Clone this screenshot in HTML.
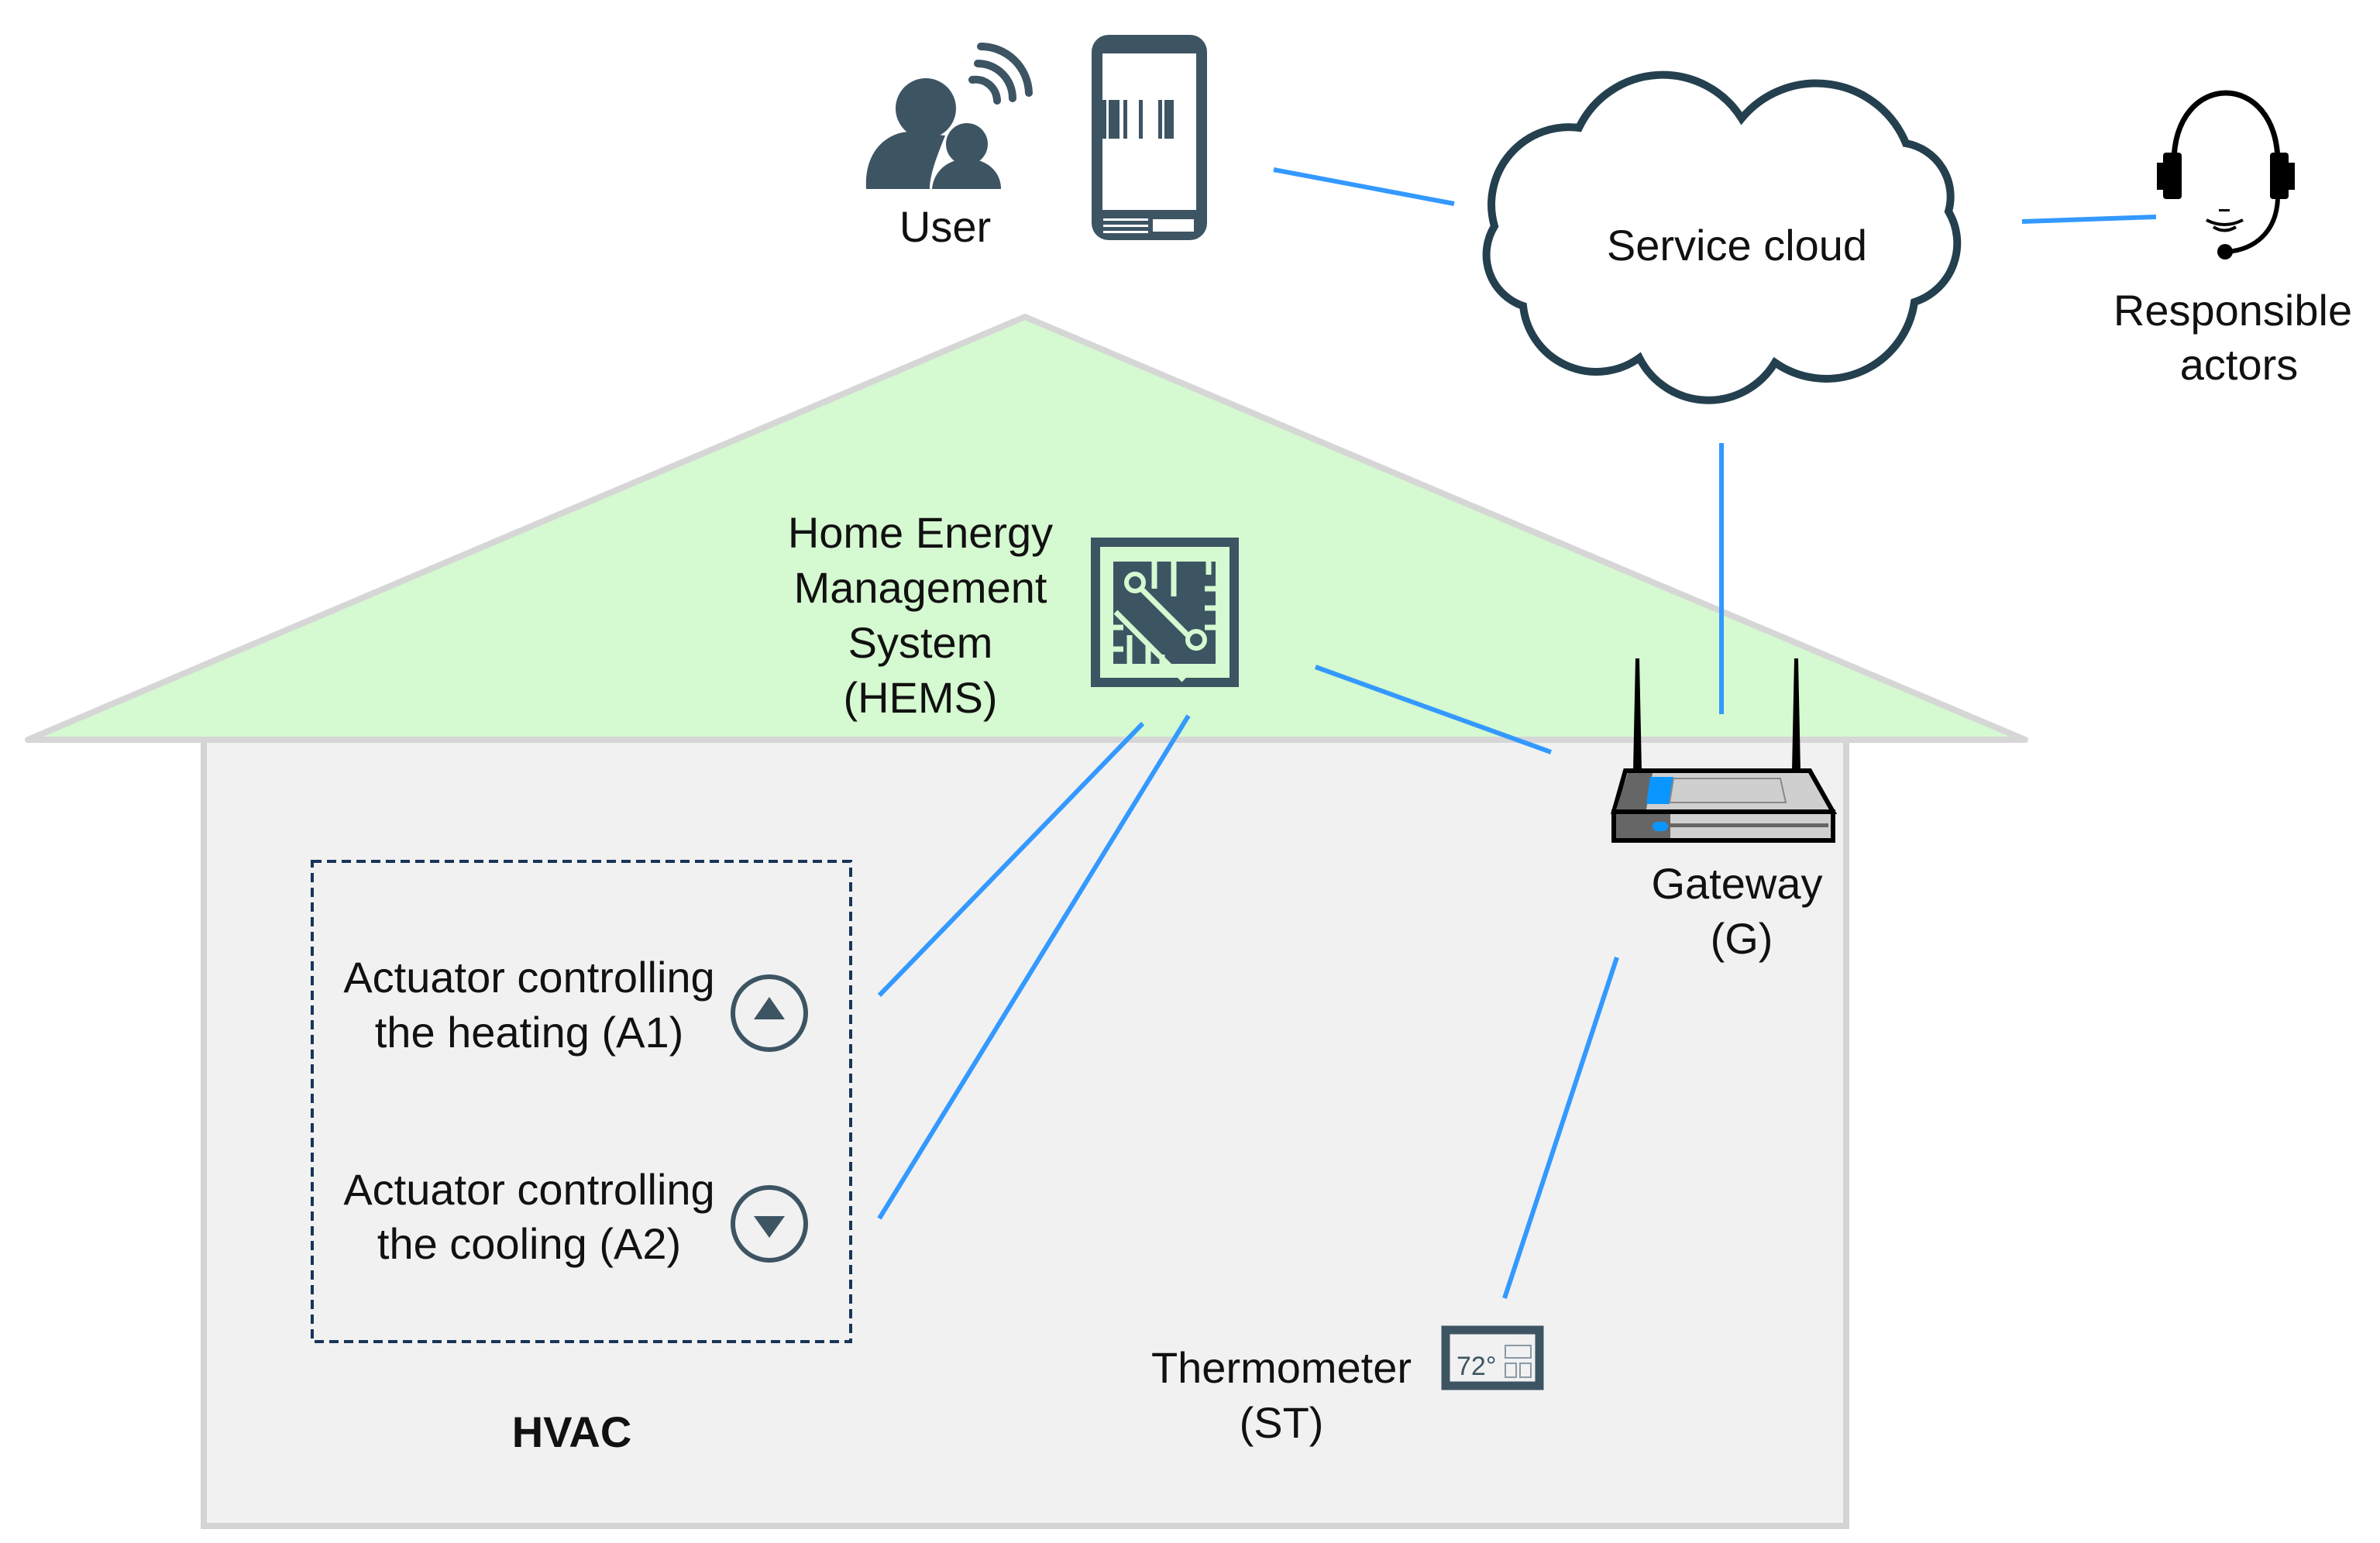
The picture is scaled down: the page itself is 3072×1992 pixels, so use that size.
<!DOCTYPE html>
<html><head><meta charset="utf-8"><style>
html,body{margin:0;padding:0;background:#fff;}
svg{display:block;}
text{font-family:"Liberation Sans",Arial,sans-serif;font-size:56px;fill:#111;}
</style></head><body>
<svg width="3072" height="1992" viewBox="0 0 3072 1992" xmlns="http://www.w3.org/2000/svg">
<!-- house body -->
<rect x="263" y="955" width="2120" height="1015" fill="#f1f1f1" stroke="#d4d4d4" stroke-width="8"/>
<!-- roof -->
<polygon points="1323,409 36,955 2614,955" fill="#d5f9d0" stroke="#d6d6d6" stroke-width="8" stroke-linejoin="round"/>

<!-- connectors -->
<g stroke="#3399ff" stroke-width="6" stroke-linecap="butt">
<line x1="1644" y1="219" x2="1877" y2="263"/>
<line x1="2610" y1="286" x2="2783" y2="280"/>
<line x1="2222" y1="572" x2="2222" y2="922"/>
<line x1="1698" y1="861" x2="2002" y2="971"/>
<line x1="1475" y1="934" x2="1135" y2="1285"/>
<line x1="1534" y1="924" x2="1135" y2="1573"/>
<line x1="2087" y1="1236" x2="1942" y2="1676"/>
</g>

<!-- cloud -->
<path d="M2038,165 A120,120 0 0 1 2248,153 A125,125 0 0 1 2460,185 A70,70 0 0 1 2515,273 A80,80 0 0 1 2471,390 A115,115 0 0 1 2291,468 A100,100 0 0 1 2116,462 A95,95 0 0 1 1966,395 A70,70 0 0 1 1929,292 A100,100 0 0 1 2038,165 Z" fill="#fff" stroke="#24404f" stroke-width="10"/>
<text x="2242" y="336" text-anchor="middle">Service cloud</text>

<!-- user icon -->
<g fill="#3d5463">
<circle cx="1195" cy="140" r="39"/>
<path d="M1118,244 C1115,190 1150,170 1175,170 L1220,175 C1210,200 1200,225 1200,244 Z"/>
<circle cx="1248" cy="186" r="27"/>
<path d="M1203,244 C1205,220 1225,205 1248,205 C1272,205 1292,220 1292,244 Z"/>
</g>
<g fill="none" stroke="#3d5463" stroke-width="10" stroke-linecap="round">
<path d="M1255,103 A28,28 0 0 1 1287,130"/>
<path d="M1262,82 A45,45 0 0 1 1307,127"/>
<path d="M1266,60 A62,62 0 0 1 1328,120"/>
</g>
<text x="1220" y="312" text-anchor="middle">User</text>

<!-- phone -->
<rect x="1409" y="45" width="149" height="265" rx="22" fill="#3d5463"/>
<rect x="1423" y="69" width="121" height="202" fill="#fff"/>
<rect x="1424" y="282" width="58" height="3" fill="#fff"/><rect x="1424" y="290" width="58" height="3" fill="#fff"/><rect x="1424" y="298" width="58" height="3" fill="#fff"/>
<rect x="1488" y="283" width="53" height="16" fill="#fff"/>
<g fill="#3d5463"><rect x="1423" y="129" width="5" height="50"/><rect x="1431" y="129" width="14" height="50"/><rect x="1450" y="129" width="5" height="50"/><rect x="1470" y="129" width="5" height="50"/><rect x="1495" y="129" width="5" height="50"/><rect x="1503" y="129" width="12" height="50"/></g>

<!-- headset -->
<g>
<path d="M2806,210 C2806,90 2940,90 2940,210" fill="none" stroke="#000" stroke-width="7"/>
<rect x="2792" y="197" width="24" height="60" rx="4" fill="#000"/>
<rect x="2784" y="210" width="12" height="35" fill="#000"/>
<rect x="2930" y="197" width="24" height="60" rx="4" fill="#000"/>
<rect x="2950" y="210" width="12" height="35" fill="#000"/>
<path d="M2940,257 C2938,300 2910,322 2875,325" fill="none" stroke="#000" stroke-width="6"/>
<circle cx="2872" cy="325" r="10" fill="#000"/>
<rect x="2864" y="270" width="14" height="3" fill="#000"/>
<path d="M2848,284 Q2871,296 2895,284" fill="none" stroke="#000" stroke-width="4"/>
<path d="M2857,293 Q2871,302 2886,293" fill="none" stroke="#000" stroke-width="4"/>
</g>
<text x="2882" y="420" text-anchor="middle">Responsible</text>
<text x="2890" y="490" text-anchor="middle">actors</text>

<!-- HEMS chip -->
<rect x="1414" y="700" width="179" height="181" fill="none" stroke="#3d5463" stroke-width="12"/>
<g fill="#3d5463">
<rect x="1437" y="725" width="132" height="132"/>
</g>
<g stroke="#d5f9d0" stroke-width="7" fill="none">
<line x1="1465" y1="752" x2="1546" y2="833"/>
<line x1="1490" y1="725" x2="1490" y2="760"/>
<line x1="1515" y1="725" x2="1515" y2="770"/>
<line x1="1440" y1="790" x2="1528" y2="878"/>
<line x1="1458" y1="820" x2="1458" y2="857"/>
<line x1="1482" y1="832" x2="1482" y2="857"/>
<line x1="1500" y1="845" x2="1500" y2="857"/>
<line x1="1437" y1="810" x2="1450" y2="810"/><line x1="1437" y1="838" x2="1450" y2="838"/>
<line x1="1555" y1="760" x2="1569" y2="760"/><line x1="1555" y1="785" x2="1569" y2="785"/><line x1="1555" y1="810" x2="1569" y2="810"/>
<line x1="1560" y1="725" x2="1560" y2="742"/>
</g>
<circle cx="1465" cy="752" r="11" fill="#3d5463" stroke="#d5f9d0" stroke-width="6"/>
<circle cx="1544" cy="826" r="11" fill="#3d5463" stroke="#d5f9d0" stroke-width="6"/>
<text x="1188" y="707" text-anchor="middle">Home Energy</text>
<text x="1188" y="778" text-anchor="middle">Management</text>
<text x="1188" y="849" text-anchor="middle">System</text>
<text x="1188" y="920" text-anchor="middle">(HEMS)</text>

<!-- router -->
<path d="M2108,995 L2111,850 L2116,850 L2119,995 Z" fill="#000"/>
<path d="M2313,995 L2316,850 L2321,850 L2324,995 Z" fill="#000"/>
<polygon points="2098,995 2336,995 2366,1048 2083,1048" fill="#cfcfcf" stroke="#000" stroke-width="6"/>
<polygon points="2101,998 2133,998 2125,1045 2086,1045" fill="#666"/>
<polygon points="2130,1003 2160,1003 2155,1038 2125,1038" fill="#0a96ff"/>
<polygon points="2160,1005 2298,1005 2305,1036 2155,1036" fill="#cfcfcf" stroke="#888" stroke-width="2"/>
<rect x="2083" y="1048" width="283" height="37" fill="#d0d0d0" stroke="#000" stroke-width="6"/>
<rect x="2086" y="1051" width="70" height="31" fill="#666"/>
<rect x="2133" y="1061" width="20" height="12" rx="6" fill="#0a96ff"/>
<rect x="2155" y="1063" width="205" height="5" fill="#666"/>
<text x="2242" y="1160" text-anchor="middle">Gateway</text>
<text x="2248" y="1231" text-anchor="middle">(G)</text>

<!-- HVAC box -->
<rect x="403" y="1112" width="695" height="620" fill="none" stroke="#17355a" stroke-width="4" stroke-dasharray="12,7"/>
<text x="683" y="1281" text-anchor="middle">Actuator controlling</text>
<text x="683" y="1352" text-anchor="middle">the heating (A1)</text>
<text x="683" y="1555" text-anchor="middle">Actuator controlling</text>
<text x="683" y="1625" text-anchor="middle">the cooling (A2)</text>
<circle cx="993" cy="1308" r="47" fill="none" stroke="#3d5463" stroke-width="6"/>
<polygon points="993,1287 1013,1316 973,1316" fill="#3d5463"/>
<circle cx="993" cy="1580" r="47" fill="none" stroke="#3d5463" stroke-width="6"/>
<polygon points="973,1570 1013,1570 993,1598" fill="#3d5463"/>
<text x="738" y="1868" text-anchor="middle" font-weight="bold">HVAC</text>

<!-- thermometer -->
<rect x="1866" y="1717" width="121" height="72" fill="#f1f1f1" stroke="#3d5463" stroke-width="11"/>
<text x="1880" y="1775" style="font-size:34px;fill:#3d5463" font-family="Liberation Mono">72°</text>
<rect x="1943" y="1737" width="33" height="16" fill="none" stroke="#8a99a5" stroke-width="2"/>
<rect x="1943" y="1760" width="14" height="18" fill="none" stroke="#8a99a5" stroke-width="2"/>
<rect x="1962" y="1760" width="14" height="18" fill="none" stroke="#8a99a5" stroke-width="2"/>
<text x="1654" y="1785" text-anchor="middle">Thermometer</text>
<text x="1654" y="1856" text-anchor="middle">(ST)</text>
</svg>
</body></html>
